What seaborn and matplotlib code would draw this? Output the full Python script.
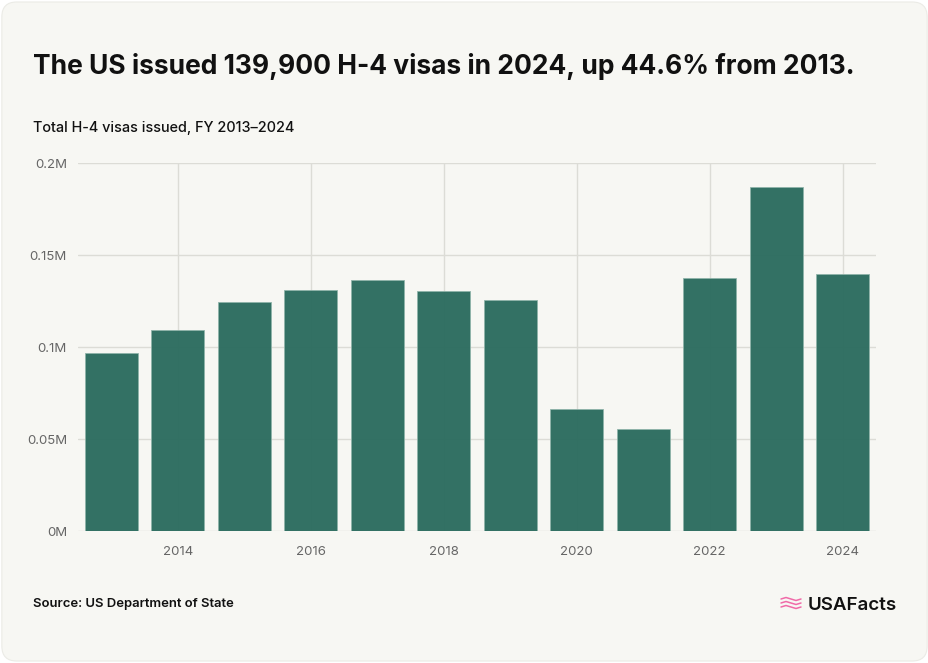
import matplotlib
matplotlib.use("Agg")
import matplotlib.pyplot as plt
import seaborn as sns
import pandas as pd
from matplotlib.patches import FancyBboxPatch
from matplotlib.ticker import FuncFormatter

# H-4 visas issued per fiscal year
years = [2013, 2014, 2015, 2016, 2017, 2018, 2019, 2020, 2021, 2022, 2023, 2024]
visas = [96750, 109200, 124500, 131000, 136400, 130400, 125700, 66100, 55300, 137300, 186800, 139900]
tick_years = [2014, 2016, 2018, 2020, 2022, 2024]

df = pd.DataFrame({'year': [str(y) for y in years], 'visas': visas})

bg = '#f7f7f3'
bar_color = '#2b6c5e'
grid_color = '#dcdcd6'

sns.set_theme(style="white")
plt.rcParams['font.family'] = ['Inter', 'DejaVu Sans']

fig = plt.figure(figsize=(9.29, 6.63), dpi=100)
fig.patch.set_facecolor('white')
card = FancyBboxPatch((0.002, 0.003), 0.996, 0.994, boxstyle="round,pad=0,rounding_size=0.016",
                      transform=fig.transFigure, facecolor=bg, edgecolor='#ebebe6', linewidth=0.8,
                      mutation_aspect=929 / 663, zorder=-10)
fig.patches.append(card)

ax = fig.add_axes([78 / 929, 1 - 531 / 663, (876 - 78) / 929, (531 - 163) / 663])
ax.set_facecolor(bg)

sns.barplot(data=df, x='year', y='visas', order=[str(y) for y in years], color=bar_color,
            width=0.8, alpha=0.96, edgecolor='#8fb3a9', linewidth=0.6, saturation=1, ax=ax)

ax.set_ylim(0, 200000)
ax.set_xlim(-0.5, 11.5)
ax.set_yticks([0, 50000, 100000, 150000, 200000])
ax.yaxis.set_major_formatter(FuncFormatter(lambda v, p: f"{v / 1e6:g}M"))
ax.set_xticks([years.index(y) for y in tick_years])
ax.set_xticklabels([str(y) for y in tick_years])
ax.set_axisbelow(True)
ax.grid(True, axis='both', color=grid_color, linewidth=1)
ax.tick_params(axis='both', length=0, labelsize=9.5, labelcolor='#666666')
ax.tick_params(axis='x', pad=11)
ax.tick_params(axis='y', pad=8)
ax.set_xlabel('')
ax.set_ylabel('')
for s in ax.spines.values():
    s.set_visible(False)

fig.text(33 / 929, 1 - 66 / 663, 'The US issued 139,900 H-4 visas in 2024, up 44.6% from 2013.',
         fontsize=19, fontweight='bold', color='#111111', va='center', ha='left')
fig.text(33 / 929, 1 - 128 / 663, 'Total H-4 visas issued, FY 2013\u20132024',
         fontsize=10.4, fontweight='medium', color='#111111', va='center', ha='left')
fig.text(33 / 929, 1 - 604 / 663, 'Source: US Department of State',
         fontsize=9.4, fontweight='semibold', color='#111111', va='center', ha='left')
fig.text(897 / 929, 1 - 605 / 663, 'USAFacts', fontsize=13.5, fontweight='semibold',
         color='#111111', va='center', ha='right')

# small pink flag-like mark next to the logo text
for k in range(3):
    xs = [x / 929 for x in (781, 786, 791, 796, 801)]
    ys = [1 - (599 + 4 * k + d) / 663 for d in (0, -1.5, 0, 1.5, 0)]
    fig.add_artist(plt.Line2D(xs, ys, color='#f06aa8', linewidth=1.1, transform=fig.transFigure))

fig.savefig('out.png', dpi=100, facecolor='white')
